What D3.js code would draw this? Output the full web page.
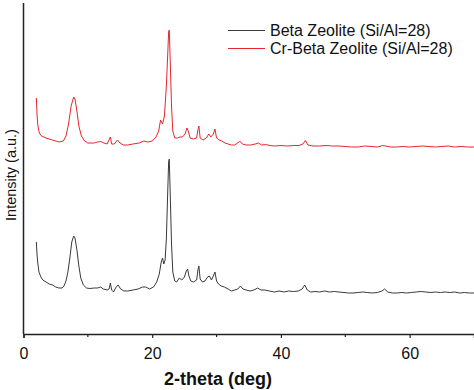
<!DOCTYPE html>
<html>
<head>
<meta charset="utf-8">
<script src="https://cdn.jsdelivr.net/npm/d3@7"></script>
<style>
  html, body { margin: 0; padding: 0; background: #fff; }
  svg { display: block; font-family: "Liberation Sans", Arial, sans-serif; }
</style>
</head>
<body>
<svg id="chart" width="474" height="390"></svg>
<script>
// XRD patterns, 2-theta (deg) vs intensity (a.u.)
const seriesNames = ['Beta Zeolite (Si/Al=28)', 'Cr-Beta Zeolite (Si/Al=28)'];
const seriesColors = ['#3a3a3a', '#e8262d'];
const seriesOffsets = [0, 148];
const xTicks = [0, 20, 40, 60];
const xMinorTicks = [10, 30, 50];

const betaTheta = [2.0, 2.1, 2.2, 2.4, 2.7, 3.0, 3.5, 4.0, 4.5, 5.0, 5.5, 6.0, 6.3, 6.6, 6.9, 7.2, 7.5, 7.8, 8.0, 8.3, 8.6, 8.9, 9.3, 9.8, 10.3, 11, 11.5, 12, 12.4, 13, 13.3, 13.5, 13.7, 14.0, 14.3, 14.7, 15.1, 15.6, 16.2, 17, 17.8, 18.5, 19, 19.6, 20.2, 20.7, 21.1, 21.4, 21.6, 21.8, 22.0, 22.2, 22.4, 22.55, 22.65, 22.8, 23.0, 23.2, 23.5, 23.8, 24.2, 24.6, 25.0, 25.3, 25.5, 25.7, 26.0, 26.4, 26.9, 27.1, 27.25, 27.45, 27.8, 28.2, 28.6, 28.9, 29.2, 29.5, 29.75, 30.0, 30.3, 30.7, 31.2, 31.8, 32.3, 32.8, 33.3, 33.7, 34.1, 34.6, 35.2, 35.8, 36.4, 36.9, 37.5, 38.2, 39, 39.7, 40.5, 41.2, 42, 42.7, 43.3, 43.7, 44.1, 44.6, 45.3, 46, 46.8, 47.5, 48.3, 49, 49.8, 50.5, 51.2, 52, 52.7, 53.4, 54.2, 55, 55.7, 56.1, 56.6, 57.3, 58, 58.8, 59.5, 60.3, 61, 61.8, 62.5, 63.3, 64, 64.8, 65.5, 66.3, 67, 67.8, 68.5, 69.3, 70];
const betaIntensity = [92, 80, 72, 62, 57, 54, 52, 50, 49, 47, 46, 46, 48, 53, 62, 76, 92, 98, 96, 84, 68, 56, 49, 46, 45.5, 46, 46, 47, 45, 44, 45, 51, 44, 42, 46, 49, 45, 43, 43, 44, 45, 47, 47, 45, 47, 52, 60, 72, 76, 70, 74, 95, 140, 172, 175, 140, 90, 62, 53, 52, 56, 54, 57, 63, 65, 58, 53, 52, 54, 64, 68, 55, 52, 53, 57, 58, 54, 58, 62, 53, 50, 48, 47, 45, 43, 44, 45, 48, 45, 44, 43, 44, 46, 44, 44, 43, 42, 43, 42, 43, 42.5, 43, 45, 49, 44, 42, 42.5, 42, 43, 42, 42.5, 42, 41.5, 41, 41, 41.5, 42, 41.5, 41, 41.5, 43, 45, 42, 41, 41, 41.5, 41, 41.5, 42, 42.5, 42, 41.5, 42, 41.5, 42, 41.5, 42, 41, 41.5, 41, 41];

const crTheta = [2.0, 2.1, 2.2, 2.45, 2.8, 3.5, 4.5, 5.5, 6.2, 6.6, 7.0, 7.4, 7.8, 8.0, 8.3, 8.6, 9.0, 9.5, 10, 11, 11.5, 12, 12.5, 13.0, 13.5, 13.7, 14.1, 14.6, 15.0, 15.5, 16.2, 17, 18, 18.7, 19.3, 20, 20.6, 21.0, 21.3, 21.6, 21.9, 22.2, 22.4, 22.55, 22.65, 22.8, 23.0, 23.2, 23.5, 23.9, 24.3, 24.7, 25.1, 25.4, 25.6, 25.9, 26.4, 26.9, 27.1, 27.25, 27.45, 27.9, 28.4, 28.8, 29.1, 29.5, 29.75, 30.0, 30.4, 30.8, 31.3, 31.8, 32.3, 32.8, 33.3, 33.6, 34, 34.6, 35.3, 36, 36.5, 37, 37.6, 38.3, 39, 40, 41, 42, 42.8, 43.4, 43.8, 44.2, 45, 46, 47, 48, 49, 50, 51, 52, 53, 54, 55, 55.8, 56.2, 57, 58, 59, 60, 61, 62, 63, 64, 65, 66, 67, 68, 69, 70];
const crIntensity = [88, 72, 62, 53, 50, 48, 46, 44, 45, 50, 62, 80, 89, 87, 75, 60, 50, 45, 43, 43, 44, 44.5, 43, 42, 49, 42, 42, 46, 43, 41, 41, 42, 43, 45, 44, 45, 49, 55, 66, 62, 70, 100, 130, 154, 156, 125, 80, 55, 48, 48, 49, 49, 52, 58, 55, 48, 47, 48, 56, 60, 48, 46, 48, 52, 49, 52, 57, 48, 46, 45, 43, 42, 41, 41, 43, 45, 42, 41, 41, 42, 43, 41, 41.5, 40.5, 40, 40.5, 40, 40.5, 40.5, 42, 45.5, 41, 40, 40, 40.5, 40, 40, 39.5, 39, 39, 40, 39.5, 39, 40.5, 40, 39, 39, 39.5, 39, 39.5, 40, 39.5, 39, 39.5, 40, 39, 39.5, 39, 39];

const svg = d3.select('#chart');
const plotLeft = 23.5, plotRight = 474, plotTop = 3, plotBottom = 334;

const x = d3.scaleLinear().domain([0, 70]).range([plotLeft, plotRight]);
const y = d3.scaleLinear().domain([0, 331]).range([plotBottom, plotTop]);

const series = [
  betaTheta.map((t, i) => [t, betaIntensity[i] + seriesOffsets[0]]),
  crTheta.map((t, i) => [t, crIntensity[i] + seriesOffsets[1]])
];

const line = d3.line().x(d => x(d[0])).y(d => y(d[1]));

series.forEach((pts, i) => {
  svg.append('path')
    .datum(pts)
    .attr('d', line)
    .attr('fill', 'none')
    .attr('stroke', seriesColors[i])
    .attr('stroke-width', 1)
    .attr('stroke-linejoin', 'round');
});

// оси
const xAxis = svg.append('g')
  .attr('transform', `translate(0,${plotBottom})`)
  .call(d3.axisBottom(x).tickValues(xTicks).tickSize(4).tickPadding(10).tickFormat(d3.format('d')));
xAxis.select('.domain').attr('stroke', '#222').attr('stroke-width', 1.5);
xAxis.selectAll('.tick line').attr('stroke', '#222').attr('stroke-width', 1.2);
xAxis.selectAll('.tick text')
  .attr('font-size', 16)
  .attr('font-family', '"Liberation Sans", Arial, sans-serif')
  .attr('fill', '#111');

svg.append('g')
  .selectAll('line')
  .data(xMinorTicks)
  .enter()
  .append('line')
  .attr('x1', d => x(d)).attr('x2', d => x(d))
  .attr('y1', plotBottom).attr('y2', plotBottom + 3)
  .attr('stroke', '#222').attr('stroke-width', 1.2);

svg.append('line')
  .attr('x1', plotLeft).attr('x2', plotLeft)
  .attr('y1', plotTop).attr('y2', plotBottom)
  .attr('stroke', '#222').attr('stroke-width', 1.5);

svg.append('text')
  .attr('x', 218).attr('y', 385)
  .attr('text-anchor', 'middle')
  .attr('font-size', 18).attr('font-weight', 'bold')
  .attr('fill', '#111')
  .text('2-theta (deg)');

svg.append('text')
  .attr('transform', 'translate(16,175) rotate(-90)')
  .attr('text-anchor', 'middle')
  .attr('font-size', 14.5)
  .attr('fill', '#111')
  .text('Intensity (a.u.)');

// легенда
const legend = svg.append('g').attr('transform', 'translate(228,30.5)');
seriesNames.forEach((name, i) => {
  const ly = i * 18;
  legend.append('line')
    .attr('x1', 0).attr('x2', 37)
    .attr('y1', ly).attr('y2', ly)
    .attr('stroke', seriesColors[i]).attr('stroke-width', 1);
  legend.append('text')
    .attr('x', 42).attr('y', ly + 5.5)
    .attr('font-size', 16)
    .attr('fill', '#111')
    .text(name);
});
</script>
</body>
</html>
